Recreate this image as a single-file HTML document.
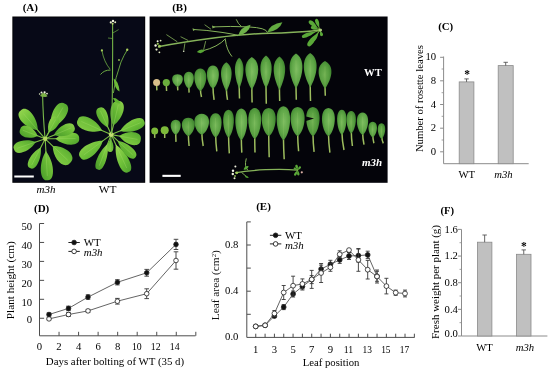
<!DOCTYPE html>
<html><head><meta charset="utf-8"><title>Figure</title>
<style>
html,body{margin:0;padding:0;background:#fff;}
body{width:550px;height:373px;overflow:hidden;}
svg{display:block;font-family:"Liberation Serif","Times New Roman",serif;}
</style></head><body>
<svg width="550" height="373" viewBox="0 0 550 373">
<rect width="550" height="373" fill="#fff"/>
<text x="22.7" y="11.2" font-size="11" text-anchor="start" font-weight="bold">(A)</text>
<text x="172.2" y="11.2" font-size="11" text-anchor="start" font-weight="bold">(B)</text>
<text x="438.2" y="29.7" font-size="10.8" text-anchor="start" font-weight="bold">(C)</text>
<text x="34" y="212.3" font-size="11" text-anchor="start" font-weight="bold">(D)</text>
<text x="256.2" y="209.8" font-size="11" text-anchor="start" font-weight="bold">(E)</text>
<text x="440.5" y="214.4" font-size="10.7" text-anchor="start" font-weight="bold">(F)</text>
<defs>
<linearGradient id="lgA" x1="0" y1="0" x2="1" y2="1"><stop offset="0" stop-color="#8fd544"/><stop offset="0.5" stop-color="#62b52c"/><stop offset="1" stop-color="#3f8f1f"/></linearGradient>
<linearGradient id="lgB" x1="0" y1="0" x2="1" y2="0"><stop offset="0" stop-color="#4a9a2c"/><stop offset="0.45" stop-color="#6ab83c"/><stop offset="0.55" stop-color="#58a832"/><stop offset="1" stop-color="#3d8a26"/></linearGradient>
<linearGradient id="ga0" x1="0" y1="0" x2="1" y2="1"><stop offset="0" stop-color="#9ad852"/><stop offset="0.55" stop-color="#6cbf38"/><stop offset="1" stop-color="#4c9e2c"/></linearGradient>
<linearGradient id="ga1" x1="1" y1="0" x2="0" y2="1"><stop offset="0" stop-color="#90d24c"/><stop offset="0.5" stop-color="#66b834"/><stop offset="1" stop-color="#48992a"/></linearGradient>
<linearGradient id="ga2" x1="0" y1="1" x2="1" y2="0"><stop offset="0" stop-color="#88ce48"/><stop offset="0.5" stop-color="#70c03a"/><stop offset="1" stop-color="#50a22e"/></linearGradient>
</defs>
<rect x="12.35" y="16.5" width="132.85" height="166.3" fill="#020205"/><rect x="13.3" y="17.5" width="131" height="164.4" fill="#070917"/>
<line x1="45.2" y1="138.8" x2="34.4" y2="126.3" stroke="#7dc044" stroke-width="1.1"/>
<path d="M37.9 130.3C37.8 117.2 26.5 104.1 20.7 110.5C13.5 115.3 24.9 128.4 37.9 130.3Z" fill="url(#ga0)"/>
<line x1="37.9" y1="130.3" x2="23.3" y2="113.5" stroke="#a5dc6a" stroke-width="0.5" opacity="0.7"/>
<line x1="45.2" y1="138.8" x2="34.2" y2="134.6" stroke="#7dc044" stroke-width="1.1"/>
<path d="M37.7 135.9C33.7 126.3 22.2 121.9 20.2 129.2C16.8 136.0 28.4 140.4 37.7 135.9Z" fill="url(#ga1)"/>
<line x1="37.7" y1="135.9" x2="22.8" y2="130.2" stroke="#a5dc6a" stroke-width="0.5" opacity="0.7"/>
<line x1="45.2" y1="138.8" x2="31.5" y2="143.4" stroke="#7dc044" stroke-width="1.1"/>
<path d="M35.8 142.0C25.1 137.6 10.7 142.5 14.0 149.3C15.5 156.7 29.9 151.9 35.8 142.0Z" fill="url(#ga2)"/>
<line x1="35.8" y1="142.0" x2="17.3" y2="148.2" stroke="#a5dc6a" stroke-width="0.5" opacity="0.7"/>
<line x1="45.2" y1="138.8" x2="38.6" y2="151.7" stroke="#7dc044" stroke-width="1.1"/>
<path d="M40.7 147.6C31.0 152.5 24.0 166.0 30.1 168.1C35.4 171.9 42.3 158.3 40.7 147.6Z" fill="url(#ga0)"/>
<line x1="40.7" y1="147.6" x2="31.7" y2="165.0" stroke="#a5dc6a" stroke-width="0.5" opacity="0.7"/>
<line x1="45.2" y1="138.8" x2="46.2" y2="157.0" stroke="#7dc044" stroke-width="1.1"/>
<path d="M45.9 151.2C38.4 162.7 39.4 181.8 47.5 180.2C55.7 180.9 54.6 161.8 45.9 151.2Z" fill="url(#ga1)"/>
<line x1="45.9" y1="151.2" x2="47.3" y2="175.9" stroke="#a5dc6a" stroke-width="0.5" opacity="0.7"/>
<line x1="45.2" y1="138.8" x2="56.2" y2="149.3" stroke="#7dc044" stroke-width="1.1"/>
<path d="M52.7 146.0C52.8 159.3 64.4 170.3 70.3 162.7C77.6 156.4 66.0 145.4 52.7 146.0Z" fill="url(#ga2)"/>
<line x1="52.7" y1="146.0" x2="67.7" y2="160.2" stroke="#a5dc6a" stroke-width="0.5" opacity="0.7"/>
<line x1="45.2" y1="138.8" x2="60.2" y2="138.7" stroke="#7dc044" stroke-width="1.1"/>
<path d="M55.4 138.7C64.5 146.8 80.2 146.8 79.2 138.6C80.1 130.4 64.4 130.5 55.4 138.7Z" fill="url(#ga0)"/>
<line x1="55.4" y1="138.7" x2="75.6" y2="138.6" stroke="#a5dc6a" stroke-width="0.5" opacity="0.7"/>
<line x1="45.2" y1="138.8" x2="58.0" y2="133.4" stroke="#7dc044" stroke-width="1.1"/>
<path d="M53.9 135.1C64.6 138.8 78.0 133.2 74.3 126.6C72.2 119.3 58.8 125.0 53.9 135.1Z" fill="url(#ga1)"/>
<line x1="53.9" y1="135.1" x2="71.2" y2="127.9" stroke="#a5dc6a" stroke-width="0.5" opacity="0.7"/>
<line x1="45.2" y1="138.8" x2="53.9" y2="123.4" stroke="#7dc044" stroke-width="1.1"/>
<path d="M51.1 128.3C64.3 123.4 73.4 107.3 65.0 103.8C57.7 98.4 48.5 114.5 51.1 128.3Z" fill="url(#ga2)"/>
<line x1="51.1" y1="128.3" x2="62.9" y2="107.5" stroke="#a5dc6a" stroke-width="0.5" opacity="0.7"/>
<line x1="45.2" y1="138.8" x2="50.3" y2="129.3" stroke="#7dc044" stroke-width="1.1"/>
<path d="M48.7 132.3C57.4 129.6 62.9 119.6 56.9 117.2C51.6 113.5 46.2 123.5 48.7 132.3Z" fill="url(#ga0)"/>
<line x1="48.7" y1="132.3" x2="55.7" y2="119.5" stroke="#a5dc6a" stroke-width="0.5" opacity="0.7"/>
<path d="M45 138 Q43 115 42.6 95" fill="none" stroke="#79b94a" stroke-width="1.1"/>
<circle cx="45.2" cy="138.8" r="2.2" fill="#b5d860"/>
<path d="M40 96l2.3-3 3 .2 2.2 3-2 .8-3.5-.2z" fill="#7db348"/><circle cx="41.5" cy="92.6" r="1" fill="#f1f3dc"/><circle cx="44.6" cy="92.3" r="1.1" fill="#f4f5e4"/><circle cx="47" cy="93.6" r=".9" fill="#e8edcf"/><circle cx="39.6" cy="94" r=".8" fill="#dfe8bf"/>
<line x1="111.2" y1="134.6" x2="106.2" y2="123.5" stroke="#7dc044" stroke-width="1.1"/>
<path d="M107.9 127.4C110.8 117.1 105.0 104.2 99.1 107.8C92.5 109.8 98.3 122.8 107.9 127.4Z" fill="url(#ga1)"/>
<line x1="107.9" y1="127.4" x2="100.4" y2="110.7" stroke="#a5dc6a" stroke-width="0.5" opacity="0.7"/>
<line x1="111.2" y1="134.6" x2="97.3" y2="128.5" stroke="#7dc044" stroke-width="1.1"/>
<path d="M102.2 130.6C96.3 118.7 80.2 111.6 77.7 119.9C73.3 127.3 89.4 134.4 102.2 130.6Z" fill="url(#ga2)"/>
<line x1="102.2" y1="130.6" x2="81.4" y2="121.5" stroke="#a5dc6a" stroke-width="0.5" opacity="0.7"/>
<line x1="111.2" y1="134.6" x2="98.4" y2="144.1" stroke="#7dc044" stroke-width="1.1"/>
<path d="M102.9 140.8C89.5 140.5 74.6 151.5 80.4 157.4C84.4 164.6 99.2 153.6 102.9 140.8Z" fill="url(#ga0)"/>
<line x1="102.9" y1="140.8" x2="83.8" y2="154.9" stroke="#a5dc6a" stroke-width="0.5" opacity="0.7"/>
<line x1="111.2" y1="134.6" x2="105.6" y2="149.1" stroke="#7dc044" stroke-width="1.1"/>
<path d="M107.6 144.0C98.3 151.6 91.8 168.4 97.8 169.5C103.0 172.7 109.5 155.9 107.6 144.0Z" fill="url(#ga1)"/>
<line x1="107.6" y1="144.0" x2="99.3" y2="165.7" stroke="#a5dc6a" stroke-width="0.5" opacity="0.7"/>
<line x1="111.2" y1="134.6" x2="110.7" y2="141.8" stroke="#7dc044" stroke-width="1.1"/>
<path d="M110.8 139.3C106.2 143.8 105.6 152.2 109.9 152.0C114.2 152.8 114.8 144.4 110.8 139.3Z" fill="url(#ga2)"/>
<line x1="110.8" y1="139.3" x2="110.0" y2="150.1" stroke="#a5dc6a" stroke-width="0.5" opacity="0.7"/>
<line x1="111.2" y1="134.6" x2="118.4" y2="150.2" stroke="#7dc044" stroke-width="1.1"/>
<path d="M115.9 144.7C113.9 158.3 122.3 176.4 128.6 172.1C135.9 170.0 127.5 152.0 115.9 144.7Z" fill="url(#ga0)"/>
<line x1="115.9" y1="144.7" x2="126.7" y2="168.0" stroke="#a5dc6a" stroke-width="0.5" opacity="0.7"/>
<line x1="111.2" y1="134.6" x2="121.2" y2="144.1" stroke="#7dc044" stroke-width="1.1"/>
<path d="M117.7 140.8C120.0 151.7 131.6 162.7 135.3 157.4C140.4 153.4 128.8 142.4 117.7 140.8Z" fill="url(#ga1)"/>
<line x1="117.7" y1="140.8" x2="132.7" y2="154.9" stroke="#a5dc6a" stroke-width="0.5" opacity="0.7"/>
<line x1="111.2" y1="134.6" x2="123.5" y2="136.8" stroke="#7dc044" stroke-width="1.1"/>
<path d="M119.2 136.1C125.8 146.0 140.0 148.6 140.7 140.0C143.1 131.7 128.9 129.1 119.2 136.1Z" fill="url(#ga2)"/>
<line x1="119.2" y1="136.1" x2="137.5" y2="139.4" stroke="#a5dc6a" stroke-width="0.5" opacity="0.7"/>
<line x1="111.2" y1="134.6" x2="124.9" y2="129.0" stroke="#7dc044" stroke-width="1.1"/>
<path d="M120.1 131.0C132.1 134.2 148.0 127.8 144.2 121.2C142.3 113.8 126.4 120.3 120.1 131.0Z" fill="url(#ga0)"/>
<line x1="120.1" y1="131.0" x2="140.6" y2="122.7" stroke="#a5dc6a" stroke-width="0.5" opacity="0.7"/>
<line x1="111.2" y1="134.6" x2="114.5" y2="120.7" stroke="#7dc044" stroke-width="1.1"/>
<path d="M113.4 125.6C123.9 118.3 127.8 102.1 119.2 101.1C111.1 98.1 107.3 114.3 113.4 125.6Z" fill="url(#ga1)"/>
<line x1="113.4" y1="125.6" x2="118.3" y2="104.8" stroke="#a5dc6a" stroke-width="0.5" opacity="0.7"/>
<circle cx="111.2" cy="134.6" r="2.4" fill="#c5dc74"/>
<path d="M111.6 134 Q112.9 80 112.6 23" fill="none" stroke="#76b548" stroke-width="1.1"/>
<path d="M110 69 Q104 62 101.9 50.6" fill="none" stroke="#6faf44" stroke-width="0.8"/>
<path d="M110.5 70 Q104 70 100.5 74.5" fill="none" stroke="#6faf44" stroke-width="1"/>
<path d="M113.4 93 Q115 78 121 62 Q124 55 127.2 50" fill="none" stroke="#6faf44" stroke-width="0.9"/>
<path d="M113.6 78.5 Q118.6 81 119.6 91.5 Q114.4 89.5 113.6 78.5Z" fill="#6dbb38"/><path d="M113 98 Q117.5 97.5 120.5 103.5 Q115 104 113 98Z" fill="#62b332"/>
<path d="M112.5 38.5 L108 38" stroke="#6faf44" stroke-width="0.7"/><path d="M112.8 33 L118.6 29.6" stroke="#6faf44" stroke-width="0.7"/>
<circle cx="101.9" cy="50.4" r="1.1" fill="#a9cf5c"/><circle cx="127.2" cy="49.8" r="1.2" fill="#a9cf5c"/><circle cx="119" cy="60" r=".9" fill="#9cc852"/>
<circle cx="110.8" cy="22.4" r="1.1" fill="#e9edcf"/><circle cx="113" cy="21" r="1.2" fill="#f3f4e2"/><circle cx="115.2" cy="22.2" r="1" fill="#e3e9c2"/><circle cx="112.6" cy="23.8" r="1" fill="#b8d070"/>
<rect x="14.3" y="175.5" width="19.5" height="2" fill="#fff"/>
<text x="46" y="193.3" font-size="11" text-anchor="middle" font-style="italic">m3h</text>
<text x="107.5" y="193.3" font-size="11.4" text-anchor="middle">WT</text>
<rect x="149.6" y="16.5" width="238" height="166.3" fill="#04040a"/>
<defs>
<radialGradient id="rg0" cx="0.5" cy="0.5" r="0.6"><stop offset="0" stop-color="#76b85a"/><stop offset="0.6" stop-color="#5ba243"/><stop offset="1" stop-color="#3f8630"/></radialGradient>
<radialGradient id="rg1" cx="0.45" cy="0.5" r="0.6"><stop offset="0" stop-color="#6fb052"/><stop offset="0.6" stop-color="#559c3e"/><stop offset="1" stop-color="#3a802c"/></radialGradient>
<radialGradient id="rg2" cx="0.55" cy="0.45" r="0.6"><stop offset="0" stop-color="#7cbc60"/><stop offset="0.6" stop-color="#60a748"/><stop offset="1" stop-color="#428a32"/></radialGradient>
</defs>
<path d="M156.6 82.9 Q156.7 88.2 156.9 90.4" fill="none" stroke="#9dbd5e" stroke-width="1.5"/>
<ellipse cx="156.6" cy="82.4" rx="3.5" ry="3.5" fill="#d9c08a"/>
<path d="M166.3 83.2 Q166.4 88.6 166.6 91" fill="none" stroke="#9dbd5e" stroke-width="1.5"/>
<ellipse cx="166.3" cy="82.6" rx="3.6" ry="3.6" fill="#6aae3c"/>
<path d="M177.5 82.9 Q177.6 88.2 177.8 90.4" fill="none" stroke="#9dbd5e" stroke-width="1.5"/>
<path d="M177.5 86.9C172.0 84.5 168.9 74.6 177.5 74.3C186.1 74.6 183.0 84.5 177.5 86.9Z" fill="url(#rg2)"/>
<line x1="177.5" y1="85.9" x2="177.5" y2="76.6" stroke="#9ccf6a" stroke-width="0.5" opacity="0.45"/>
<path d="M188.8 84.7 Q188.9 90.2 189.1 92.6" fill="none" stroke="#9dbd5e" stroke-width="1.5"/>
<path d="M188.8 88.7C183.7 85.8 180.7 72.2 188.8 71.7C196.9 72.2 193.9 85.8 188.8 88.7Z" fill="url(#rg0)"/>
<line x1="188.8" y1="87.7" x2="188.8" y2="74.9" stroke="#9ccf6a" stroke-width="0.5" opacity="0.45"/>
<path d="M200.3 86.9 Q200.5 93.5 201.5 97" fill="none" stroke="#9dbd5e" stroke-width="1.5"/>
<path d="M200.3 90.9C194.2 87.3 190.6 69.0 200.3 68.4C210.0 69.0 206.4 87.3 200.3 90.9Z" fill="url(#rg1)"/>
<line x1="200.3" y1="89.9" x2="200.3" y2="72.7" stroke="#9ccf6a" stroke-width="0.5" opacity="0.45"/>
<path d="M212.9 84.7 Q213.1 93.8 214.1 99.8" fill="none" stroke="#9dbd5e" stroke-width="1.5"/>
<path d="M212.9 88.7C206.8 85.0 203.2 66.2 212.9 65.5C222.6 66.2 219.0 85.0 212.9 88.7Z" fill="url(#rg2)"/>
<line x1="212.9" y1="87.7" x2="212.9" y2="69.9" stroke="#9ccf6a" stroke-width="0.5" opacity="0.45"/>
<path d="M226.3 87.4 Q226.5 95.1 227.5 99.8" fill="none" stroke="#9dbd5e" stroke-width="1.5"/>
<path d="M226.3 91.4C222.5 84.8 216.5 68.5 226.3 62.3C236.1 68.5 230.1 84.8 226.3 91.4Z" fill="url(#rg0)"/>
<line x1="226.3" y1="90.4" x2="226.3" y2="67.9" stroke="#9ccf6a" stroke-width="0.5" opacity="0.45"/>
<path d="M239.2 84.7 Q239.3 93.1 239.5 98.5" fill="none" stroke="#9dbd5e" stroke-width="1.5"/>
<path d="M239.2 88.7C236.1 81.7 231.3 64.3 239.2 57.7C247.1 64.3 242.3 81.7 239.2 88.7Z" fill="url(#rg1)"/>
<line x1="239.2" y1="87.7" x2="239.2" y2="63.7" stroke="#9ccf6a" stroke-width="0.5" opacity="0.45"/>
<path d="M251.8 86.0 Q251.9 95.8 252.1 102.5" fill="none" stroke="#9dbd5e" stroke-width="1.5"/>
<path d="M251.8 90.0C247.2 82.6 240.0 64.0 251.8 56.9C263.6 64.0 256.4 82.6 251.8 90.0Z" fill="url(#rg2)"/>
<line x1="251.8" y1="89.0" x2="251.8" y2="63.3" stroke="#9ccf6a" stroke-width="0.5" opacity="0.45"/>
<path d="M266 84.7 Q266.1 95.8 266.3 103.8" fill="none" stroke="#9dbd5e" stroke-width="1.5"/>
<path d="M266 88.7C261.9 81.3 255.6 62.7 266 55.6C276.4 62.7 270.1 81.3 266 88.7Z" fill="url(#rg0)"/>
<line x1="266" y1="87.7" x2="266" y2="62.0" stroke="#9ccf6a" stroke-width="0.5" opacity="0.45"/>
<path d="M279.4 86.0 Q279.5 95.0 279.7 101" fill="none" stroke="#9dbd5e" stroke-width="1.5"/>
<path d="M279.4 90.0C275.3 82.5 268.8 63.6 279.4 56.5C290.0 63.6 283.5 82.5 279.4 90.0Z" fill="url(#rg1)"/>
<line x1="279.4" y1="89.0" x2="279.4" y2="63.0" stroke="#9ccf6a" stroke-width="0.5" opacity="0.45"/>
<path d="M296 84.7 Q296.1 93.8 296.3 99.8" fill="none" stroke="#9dbd5e" stroke-width="1.5"/>
<path d="M296 88.7C291.4 80.8 284.2 60.9 296 53.4C307.8 60.9 300.6 80.8 296 88.7Z" fill="url(#rg2)"/>
<line x1="296" y1="87.7" x2="296" y2="60.3" stroke="#9ccf6a" stroke-width="0.5" opacity="0.45"/>
<path d="M310.2 83.4 Q310.3 93.7 310.5 101" fill="none" stroke="#9dbd5e" stroke-width="1.5"/>
<path d="M310.2 87.4C305.6 79.7 298.4 60.3 310.2 52.9C322.0 60.3 314.8 79.7 310.2 87.4Z" fill="url(#rg0)"/>
<line x1="310.2" y1="86.4" x2="310.2" y2="59.6" stroke="#9ccf6a" stroke-width="0.5" opacity="0.45"/>
<path d="M325 84.7 Q325.1 91.8 325.3 95.8" fill="none" stroke="#9dbd5e" stroke-width="1.5"/>
<path d="M325 88.7C320.4 82.3 313.2 66.8 325 60.9C336.8 66.8 329.6 82.3 325 88.7Z" fill="url(#rg1)"/>
<line x1="325" y1="87.7" x2="325" y2="66.3" stroke="#9ccf6a" stroke-width="0.5" opacity="0.45"/>
<path d="M154.7 131.4 Q154.7 136.2 154.7 137.9" fill="none" stroke="#9dbd5e" stroke-width="1.5"/>
<ellipse cx="154.7" cy="130.9" rx="3.5" ry="3.5" fill="#7dba3a"/>
<path d="M164.7 131.3 Q164.7 136.2 164.7 138" fill="none" stroke="#9dbd5e" stroke-width="1.5"/>
<ellipse cx="164.7" cy="130.3" rx="4.0" ry="4.0" fill="#7dba3a"/>
<path d="M175.7 130.9 Q175.8 137.9 176.0 141.9" fill="none" stroke="#9dbd5e" stroke-width="1.5"/>
<path d="M175.7 134.9C170.6 132.2 167.6 120.1 175.7 119.7C183.8 120.1 180.8 132.2 175.7 134.9Z" fill="url(#rg0)"/>
<line x1="175.7" y1="133.9" x2="175.7" y2="122.5" stroke="#9ccf6a" stroke-width="0.5" opacity="0.45"/>
<path d="M188.3 132.2 Q188.5 140.6 189.1 146" fill="none" stroke="#9dbd5e" stroke-width="1.5"/>
<path d="M188.3 136.2C181.7 133.1 177.9 118.3 188.3 117.8C198.7 118.3 194.9 133.1 188.3 136.2Z" fill="url(#rg1)"/>
<line x1="188.3" y1="135.2" x2="188.3" y2="121.3" stroke="#9ccf6a" stroke-width="0.5" opacity="0.45"/>
<path d="M201.7 130.9 Q202.0 139.9 203.2 146" fill="none" stroke="#9dbd5e" stroke-width="1.5"/>
<path d="M201.7 134.9C194.2 131.5 189.9 114.4 201.7 113.8C213.5 114.4 209.2 131.5 201.7 134.9Z" fill="url(#rg2)"/>
<line x1="201.7" y1="133.9" x2="201.7" y2="117.8" stroke="#9ccf6a" stroke-width="0.5" opacity="0.45"/>
<path d="M215.6 133.6 Q215.8 143.9 216.8 151.3" fill="none" stroke="#9dbd5e" stroke-width="1.5"/>
<path d="M215.6 137.6C209.5 133.8 205.9 113.9 215.6 113.2C225.3 113.9 221.7 133.8 215.6 137.6Z" fill="url(#rg0)"/>
<line x1="215.6" y1="136.6" x2="215.6" y2="117.9" stroke="#9ccf6a" stroke-width="0.5" opacity="0.45"/>
<path d="M228.5 133.6 Q228.7 145.0 229.3 153.4" fill="none" stroke="#9dbd5e" stroke-width="1.5"/>
<path d="M228.5 137.6C223.0 133.4 219.9 110.5 228.5 109.7C237.1 110.5 234.0 133.4 228.5 137.6Z" fill="url(#rg1)"/>
<line x1="228.5" y1="136.6" x2="228.5" y2="115.1" stroke="#9ccf6a" stroke-width="0.5" opacity="0.45"/>
<path d="M241.3 136.2 Q241.4 145.9 241.8 152.6" fill="none" stroke="#9dbd5e" stroke-width="1.5"/>
<path d="M241.3 140.2C235.2 135.5 231.6 109.3 241.3 108.4C251.0 109.3 247.4 135.5 241.3 140.2Z" fill="url(#rg2)"/>
<line x1="241.3" y1="139.2" x2="241.3" y2="114.6" stroke="#9ccf6a" stroke-width="0.5" opacity="0.45"/>
<path d="M254.7 134.9 Q254.8 145.2 255.0 152.6" fill="none" stroke="#9dbd5e" stroke-width="1.5"/>
<path d="M254.7 138.9C248.1 134.3 244.3 108.8 254.7 107.9C265.1 108.8 261.3 134.3 254.7 138.9Z" fill="url(#rg0)"/>
<line x1="254.7" y1="137.9" x2="254.7" y2="113.9" stroke="#9ccf6a" stroke-width="0.5" opacity="0.45"/>
<path d="M268.7 132.2 Q268.8 146.2 269.2 157.2" fill="none" stroke="#9dbd5e" stroke-width="1.5"/>
<path d="M268.7 136.2C261.5 131.9 257.4 108.7 268.7 107.9C280.0 108.7 275.9 131.9 268.7 136.2Z" fill="url(#rg1)"/>
<line x1="268.7" y1="135.2" x2="268.7" y2="113.4" stroke="#9ccf6a" stroke-width="0.5" opacity="0.45"/>
<path d="M283.4 136.2 Q283.6 149.2 284.2 159.3" fill="none" stroke="#9dbd5e" stroke-width="1.5"/>
<path d="M283.4 140.2C276.5 135.3 272.6 107.3 283.4 106.3C294.2 107.3 290.3 135.3 283.4 140.2Z" fill="url(#rg2)"/>
<line x1="283.4" y1="139.2" x2="283.4" y2="112.9" stroke="#9ccf6a" stroke-width="0.5" opacity="0.45"/>
<path d="M297.6 132.2 Q297.8 143.2 298.6 151.3" fill="none" stroke="#9dbd5e" stroke-width="1.5"/>
<path d="M297.6 136.2C290.4 131.8 286.3 107.8 297.6 107.0C308.9 107.8 304.8 131.8 297.6 136.2Z" fill="url(#rg0)"/>
<line x1="297.6" y1="135.2" x2="297.6" y2="112.6" stroke="#9ccf6a" stroke-width="0.5" opacity="0.45"/>
<path d="M312.9 132.2 Q313.1 143.5 314.1 151.8" fill="none" stroke="#9dbd5e" stroke-width="1.5"/>
<path d="M312.9 136.2C306.0 131.8 302.1 107.8 312.9 107.0C323.7 107.8 319.8 131.8 312.9 136.2Z" fill="url(#rg1)"/>
<line x1="312.9" y1="135.2" x2="312.9" y2="112.6" stroke="#9ccf6a" stroke-width="0.5" opacity="0.45"/>
<path d="M328.4 132.2 Q328.7 143.9 329.9 152.6" fill="none" stroke="#9dbd5e" stroke-width="1.5"/>
<path d="M328.4 136.2C321.8 131.9 318.0 108.7 328.4 107.9C338.8 108.7 335.0 131.9 328.4 136.2Z" fill="url(#rg2)"/>
<line x1="328.4" y1="135.2" x2="328.4" y2="113.4" stroke="#9ccf6a" stroke-width="0.5" opacity="0.45"/>
<path d="M341.8 130.9 Q342.2 141.9 344.0 150" fill="none" stroke="#9dbd5e" stroke-width="1.5"/>
<path d="M341.8 134.9C337.0 131.0 334.2 110.4 341.8 109.7C349.4 110.4 346.6 131.0 341.8 134.9Z" fill="url(#rg0)"/>
<line x1="341.8" y1="133.9" x2="341.8" y2="114.5" stroke="#9ccf6a" stroke-width="0.5" opacity="0.45"/>
<path d="M351.2 129.5 Q351.4 139.2 352.4 146" fill="none" stroke="#9dbd5e" stroke-width="1.5"/>
<path d="M351.2 133.5C346.4 129.9 343.6 111.6 351.2 111.0C358.8 111.6 356.0 129.9 351.2 133.5Z" fill="url(#rg1)"/>
<line x1="351.2" y1="132.5" x2="351.2" y2="115.3" stroke="#9ccf6a" stroke-width="0.5" opacity="0.45"/>
<path d="M362.5 130.9 Q362.8 139.2 364.0 144.6" fill="none" stroke="#9dbd5e" stroke-width="1.5"/>
<path d="M362.5 134.9C356.7 131.3 353.4 113.0 362.5 112.4C371.6 113.0 368.3 131.3 362.5 134.9Z" fill="url(#rg2)"/>
<line x1="362.5" y1="133.9" x2="362.5" y2="116.7" stroke="#9ccf6a" stroke-width="0.5" opacity="0.45"/>
<path d="M372.7 133.6 Q372.9 139.9 373.9 143.3" fill="none" stroke="#9dbd5e" stroke-width="1.5"/>
<path d="M372.7 137.6C368.3 134.8 365.8 122.2 372.7 121.8C379.6 122.2 377.1 134.8 372.7 137.6Z" fill="url(#rg0)"/>
<line x1="372.7" y1="136.6" x2="372.7" y2="124.8" stroke="#9ccf6a" stroke-width="0.5" opacity="0.45"/>
<path d="M381.5 134.9 Q381.9 140.6 383.3 143.3" fill="none" stroke="#9dbd5e" stroke-width="1.5"/>
<path d="M381.5 138.9C377.7 136.1 375.5 123.6 381.5 123.2C387.5 123.6 385.3 136.1 381.5 138.9Z" fill="url(#rg1)"/>
<line x1="381.5" y1="137.9" x2="381.5" y2="126.1" stroke="#9ccf6a" stroke-width="0.5" opacity="0.45"/>
<path d="M306 121 L314 118.5 L306 116.5Z" fill="#05060a"/>
<path d="M158 46.8 Q183 42 215.5 37.8 T270 33.3 T320 30.3" fill="none" stroke="#86b35a" stroke-width="1.5"/>
<path d="M193.7 29.5 Q206 30 222 32.4 T238 35.9" fill="none" stroke="#86b35a" stroke-width="1"/>
<path d="M213.3 26.9 Q230 26 248.3 26.9 T267.5 32.6" fill="none" stroke="#86b35a" stroke-width="1"/>
<path d="M204.6 24.7 L211.1 29.3" stroke="#86b35a" stroke-width="0.8"/><path d="M236.2 19.3 Q238 24 241.5 26.5" fill="none" stroke="#86b35a" stroke-width="0.9"/>
<path d="M225.6 38.6 Q218 47 202.4 50.9" fill="none" stroke="#86b35a" stroke-width="1"/>
<path d="M225.3 39.2 Q226.5 50 232 56.6" fill="none" stroke="#86b35a" stroke-width="1"/>
<path d="M205.7 41.1 L203.6 49.8" stroke="#86b35a" stroke-width="0.8"/><path d="M184.9 43.3 L183.8 50.5" stroke="#86b35a" stroke-width="0.8"/><path d="M166.4 34.6 L177.3 41.8" stroke="#86b35a" stroke-width="0.8"/><path d="M180.6 36.7 L188.2 40.5" stroke="#86b35a" stroke-width="0.8"/>
<path d="M238.2 36 Q240 27 250.6 24.8 Q249 33 238.2 36Z" fill="#6fb24a"/>
<path d="M267.3 32.6 Q270 24 282.4 22.3 Q279.5 30.5 267.3 32.6Z" fill="#62aa40"/>
<path d="M196.8 52 Q200 48 204.8 50.2 Q202 55 196.8 52Z" fill="#58a635"/>
<path d="M192.5 28.2 l3.2 1.3 -2.6 1.6z" fill="#86b35a"/><path d="M212 25.6 l3.5 1.3 -3 1.6z" fill="#86b35a"/><circle cx="183.7" cy="51.3" r="0.8" fill="#dfe8c8"/>
<circle cx="157.6" cy="41.2" r="1" fill="#f0f2df"/><circle cx="155.6" cy="45.5" r="1.2" fill="#f4f5e4"/><circle cx="156.5" cy="49.6" r="1.1" fill="#e7ecca"/><circle cx="160.6" cy="40.6" r=".9" fill="#dde6b8"/><circle cx="159.4" cy="52.3" r=".9" fill="#e4eac4"/><circle cx="159.5" cy="46.2" r="1.5" fill="#9fc95a"/><circle cx="157.8" cy="43.8" r="1.1" fill="#8fbf50"/>
<line x1="320.0" y1="30.0" x2="315.6" y2="26.4" stroke="#7dc044" stroke-width="0.8"/>
<path d="M317.2 27.8C315.8 23.1 310.4 18.7 309.0 21.0C307.0 22.8 312.4 27.2 317.2 27.8Z" fill="#5aa838"/>
<line x1="320.0" y1="30.0" x2="318.4" y2="25.6" stroke="#7dc044" stroke-width="0.8"/>
<path d="M319.0 27.2C320.1 23.3 318.1 17.9 316.0 19.0C313.7 19.5 315.7 24.9 319.0 27.2Z" fill="#5aa838"/>
<line x1="320.0" y1="30.0" x2="316.4" y2="28.8" stroke="#7dc044" stroke-width="0.8"/>
<path d="M317.8 29.2C315.9 26.2 311.5 24.7 311.0 27.0C310.0 29.1 314.4 30.6 317.8 29.2Z" fill="#5aa838"/>
<line x1="320.0" y1="30.0" x2="315.2" y2="36.4" stroke="#7dc044" stroke-width="0.8"/>
<path d="M317.0 34.0C310.9 36.6 305.0 44.5 308.0 46.0C310.3 48.5 316.2 40.6 317.0 34.0Z" fill="#5aa838"/>
<line x1="320.0" y1="30.0" x2="312.8" y2="32.8" stroke="#7dc044" stroke-width="0.8"/>
<path d="M315.5 31.8C309.4 31.3 300.5 34.7 302.0 37.0C302.4 39.7 311.3 36.2 315.5 31.8Z" fill="#5aa838"/>
<line x1="320.0" y1="30.0" x2="320.8" y2="32.4" stroke="#7dc044" stroke-width="0.8"/>
<path d="M320.5 31.5C319.2 33.8 320.2 36.8 322.0 36.0C324.0 35.5 323.0 32.6 320.5 31.5Z" fill="#5aa838"/>
<line x1="320.0" y1="30.0" x2="317.2" y2="34.4" stroke="#7dc044" stroke-width="0.8"/>
<path d="M318.2 32.8C314.3 34.6 310.8 40.1 313.0 41.0C314.8 42.6 318.2 37.1 318.2 32.8Z" fill="#5aa838"/>
<circle cx="320.5" cy="30" r="1.6" fill="#a9c779"/>
<path d="M235 172.9 Q248 170.6 265.5 169.7 T297.5 170.1" fill="none" stroke="#86b35a" stroke-width="1.3"/>
<path d="M248 170.4 Q244 167 246.3 158.4" fill="none" stroke="#86b35a" stroke-width="1"/><path d="M241.5 172.4 L247 177" stroke="#86b35a" stroke-width="0.9"/>
<path d="M243.6 169.6 Q244.5 165.5 248.6 166 Q248 170 243.6 169.6Z" fill="#5aa838"/><path d="M244.6 175.6 Q247.6 175 248.8 178 Q245.5 178.6 244.6 175.6Z" fill="#4f9c30"/>
<circle cx="235.4" cy="166.4" r="1" fill="#f2f3e2"/><circle cx="233" cy="170.8" r="1.2" fill="#f6f6ea"/><circle cx="232.8" cy="174" r="1.2" fill="#f0f2df"/><circle cx="234.5" cy="178.3" r="1" fill="#e9eccf"/><circle cx="236.8" cy="172.8" r="1.4" fill="#9fc95a"/><circle cx="235" cy="176" r=".9" fill="#8fbf50"/>
<line x1="297.6" y1="170.2" x2="297.2" y2="168.5" stroke="#7dc044" stroke-width="0.7"/>
<path d="M297.4 169.4C298.6 167.2 297.8 164.2 296.2 164.8C294.5 165.1 295.3 168.1 297.4 169.4Z" fill="#5aa838"/>
<line x1="297.6" y1="170.2" x2="298.6" y2="169.0" stroke="#7dc044" stroke-width="0.7"/>
<path d="M298.1 169.6C300.3 169.5 301.9 167.4 300.6 166.5C299.5 165.4 297.8 167.4 298.1 169.6Z" fill="#5aa838"/>
<line x1="297.6" y1="170.2" x2="296.6" y2="171.9" stroke="#7dc044" stroke-width="0.7"/>
<path d="M297.2 171.0C294.8 172.0 293.1 175.0 294.6 175.6C295.9 176.6 297.6 173.5 297.2 171.0Z" fill="#5aa838"/>
<line x1="297.6" y1="170.2" x2="297.9" y2="171.9" stroke="#7dc044" stroke-width="0.7"/>
<path d="M297.8 171.0C296.5 173.0 297.1 175.9 298.6 175.4C300.2 175.3 299.6 172.4 297.8 171.0Z" fill="#5aa838"/>
<line x1="297.6" y1="170.2" x2="296.4" y2="169.5" stroke="#7dc044" stroke-width="0.7"/>
<path d="M297.0 169.9C296.5 168.0 294.3 166.8 293.8 168.0C293.0 169.1 295.1 170.3 297.0 169.9Z" fill="#5aa838"/>
<circle cx="301.8" cy="172.3" r="1.1" fill="#dcb0a6"/>
<rect x="162.4" y="174.8" width="18.3" height="2.1" fill="#fff"/>
<text x="364" y="76" font-size="10.7" text-anchor="start" font-weight="bold" fill="#fff">WT</text>
<text x="362" y="165.5" font-size="11" text-anchor="start" font-weight="bold" font-style="italic" fill="#fff">m3h</text>
<line x1="443.6" y1="56.5" x2="443.6" y2="163.7" stroke="#8c8c8c" stroke-width="1"/>
<line x1="443.6" y1="163.7" x2="528.7" y2="163.7" stroke="#8c8c8c" stroke-width="1"/>
<line x1="440.1" y1="57.3" x2="443.6" y2="57.3" stroke="#8c8c8c" stroke-width="1"/>
<text x="436.20000000000005" y="60.4" font-size="10.7" text-anchor="end">10</text>
<line x1="440.1" y1="80.8" x2="443.6" y2="80.8" stroke="#8c8c8c" stroke-width="1"/>
<text x="436.20000000000005" y="83.89999999999999" font-size="10.7" text-anchor="end">8</text>
<line x1="440.1" y1="104.5" x2="443.6" y2="104.5" stroke="#8c8c8c" stroke-width="1"/>
<text x="436.20000000000005" y="107.6" font-size="10.7" text-anchor="end">4</text>
<line x1="440.1" y1="128.2" x2="443.6" y2="128.2" stroke="#8c8c8c" stroke-width="1"/>
<text x="436.20000000000005" y="131.29999999999998" font-size="10.7" text-anchor="end">2</text>
<line x1="440.1" y1="151.8" x2="443.6" y2="151.8" stroke="#8c8c8c" stroke-width="1"/>
<text x="436.20000000000005" y="154.9" font-size="10.7" text-anchor="end">0</text>
<line x1="441.6" y1="69" x2="443.6" y2="69" stroke="#8c8c8c" stroke-width="0.8"/>
<line x1="441.6" y1="92.7" x2="443.6" y2="92.7" stroke="#8c8c8c" stroke-width="0.8"/>
<line x1="441.6" y1="116.3" x2="443.6" y2="116.3" stroke="#8c8c8c" stroke-width="0.8"/>
<line x1="441.6" y1="140" x2="443.6" y2="140" stroke="#8c8c8c" stroke-width="0.8"/>
<rect x="459.2" y="81.9" width="14.699999999999989" height="81.79999999999998" fill="#c0c0c0" stroke="#8a8a8a" stroke-width="0.8"/>
<line x1="466.54999999999995" y1="78.9" x2="466.54999999999995" y2="81.9" stroke="#555" stroke-width="0.9"/>
<line x1="464.34999999999997" y1="78.9" x2="468.74999999999994" y2="78.9" stroke="#555" stroke-width="0.9"/>
<rect x="498.2" y="65.6" width="15.000000000000057" height="98.1" fill="#c0c0c0" stroke="#8a8a8a" stroke-width="0.8"/>
<line x1="505.70000000000005" y1="62.3" x2="505.70000000000005" y2="65.6" stroke="#555" stroke-width="0.9"/>
<line x1="503.50000000000006" y1="62.3" x2="507.90000000000003" y2="62.3" stroke="#555" stroke-width="0.9"/>
<text x="467" y="77.9" font-size="11.5" text-anchor="middle" font-weight="bold">*</text>
<text x="466.8" y="177.8" font-size="10.7" text-anchor="middle">WT</text>
<text x="503.5" y="177.8" font-size="10.7" text-anchor="middle" font-style="italic">m3h</text>
<text x="422.6" y="98.6" font-size="10.7" text-anchor="middle" transform="rotate(-90 422.6 98.6)" textLength="107" lengthAdjust="spacingAndGlyphs">Number of rosette leaves</text>
<line x1="39.5" y1="223.6" x2="39.5" y2="335.8" stroke="#4d4d4d" stroke-width="1"/>
<line x1="39.5" y1="335.8" x2="195.5" y2="335.8" stroke="#4d4d4d" stroke-width="1"/>
<line x1="39.5" y1="223.5" x2="44.1" y2="223.5" stroke="#4d4d4d" stroke-width="1"/>
<text x="32.1" y="229.8" font-size="10.7" text-anchor="end">50</text>
<line x1="39.5" y1="242.45" x2="44.1" y2="242.45" stroke="#4d4d4d" stroke-width="1"/>
<text x="32.1" y="248.75" font-size="10.7" text-anchor="end">40</text>
<line x1="39.5" y1="261.4" x2="44.1" y2="261.4" stroke="#4d4d4d" stroke-width="1"/>
<text x="32.1" y="267.7" font-size="10.7" text-anchor="end">30</text>
<line x1="39.5" y1="280.35" x2="44.1" y2="280.35" stroke="#4d4d4d" stroke-width="1"/>
<text x="32.1" y="286.65000000000003" font-size="10.7" text-anchor="end">20</text>
<line x1="39.5" y1="299.3" x2="44.1" y2="299.3" stroke="#4d4d4d" stroke-width="1"/>
<text x="32.1" y="305.6" font-size="10.7" text-anchor="end">10</text>
<line x1="39.5" y1="318.25" x2="44.1" y2="318.25" stroke="#4d4d4d" stroke-width="1"/>
<text x="32.1" y="323.35" font-size="10.7" text-anchor="end">0</text>
<text x="39.5" y="350.1" font-size="10.7" text-anchor="middle">0</text>
<line x1="59.04" y1="335.8" x2="59.04" y2="331.8" stroke="#4d4d4d" stroke-width="1"/>
<text x="59.04" y="350.1" font-size="10.7" text-anchor="middle">2</text>
<line x1="78.58" y1="335.8" x2="78.58" y2="331.8" stroke="#4d4d4d" stroke-width="1"/>
<text x="78.58" y="350.1" font-size="10.7" text-anchor="middle">4</text>
<line x1="98.12" y1="335.8" x2="98.12" y2="331.8" stroke="#4d4d4d" stroke-width="1"/>
<text x="98.12" y="350.1" font-size="10.7" text-anchor="middle">6</text>
<line x1="117.66" y1="335.8" x2="117.66" y2="331.8" stroke="#4d4d4d" stroke-width="1"/>
<text x="117.66" y="350.1" font-size="10.7" text-anchor="middle">8</text>
<line x1="137.2" y1="335.8" x2="137.2" y2="331.8" stroke="#4d4d4d" stroke-width="1"/>
<text x="136.79999999999998" y="350.1" font-size="10.7" text-anchor="middle" textLength="9.8" lengthAdjust="spacingAndGlyphs">10</text>
<line x1="156.74" y1="335.8" x2="156.74" y2="331.8" stroke="#4d4d4d" stroke-width="1"/>
<text x="155.74" y="350.1" font-size="10.7" text-anchor="middle" textLength="9.8" lengthAdjust="spacingAndGlyphs">12</text>
<line x1="176.28" y1="335.8" x2="176.28" y2="331.8" stroke="#4d4d4d" stroke-width="1"/>
<text x="174.68" y="350.1" font-size="10.7" text-anchor="middle" textLength="9.8" lengthAdjust="spacingAndGlyphs">14</text>
<line x1="195.82" y1="335.8" x2="195.82" y2="331.8" stroke="#4d4d4d" stroke-width="1"/>
<text x="115" y="364.5" font-size="10.7" text-anchor="middle" textLength="138.3" lengthAdjust="spacingAndGlyphs">Days after bolting of WT (35 d)</text>
<text x="14.4" y="280.2" font-size="10.7" text-anchor="middle" transform="rotate(-90 14.4 280.2)" textLength="78" lengthAdjust="spacingAndGlyphs">Plant height (cm)</text>
<polyline points="49.0,318.9 68.5,314.5 88.0,310.9 117.4,301.2 146.7,293.7 176.0,260.5" fill="none" stroke="#3c3c3c" stroke-width="0.8"/>
<line x1="49.0" y1="317.9" x2="49.0" y2="319.8" stroke="#383838" stroke-width="0.9"/>
<line x1="46.7" y1="317.9" x2="51.3" y2="317.9" stroke="#383838" stroke-width="0.9"/>
<line x1="46.7" y1="319.8" x2="51.3" y2="319.8" stroke="#383838" stroke-width="0.9"/>
<line x1="68.5" y1="312.6" x2="68.5" y2="316.4" stroke="#383838" stroke-width="0.9"/>
<line x1="66.2" y1="312.6" x2="70.8" y2="312.6" stroke="#383838" stroke-width="0.9"/>
<line x1="66.2" y1="316.4" x2="70.8" y2="316.4" stroke="#383838" stroke-width="0.9"/>
<line x1="88.0" y1="309.4" x2="88.0" y2="312.4" stroke="#383838" stroke-width="0.9"/>
<line x1="85.8" y1="309.4" x2="90.3" y2="309.4" stroke="#383838" stroke-width="0.9"/>
<line x1="85.8" y1="312.4" x2="90.3" y2="312.4" stroke="#383838" stroke-width="0.9"/>
<line x1="117.4" y1="298.4" x2="117.4" y2="304.1" stroke="#383838" stroke-width="0.9"/>
<line x1="115.1" y1="298.4" x2="119.7" y2="298.4" stroke="#383838" stroke-width="0.9"/>
<line x1="115.1" y1="304.1" x2="119.7" y2="304.1" stroke="#383838" stroke-width="0.9"/>
<line x1="146.7" y1="288.8" x2="146.7" y2="298.6" stroke="#383838" stroke-width="0.9"/>
<line x1="144.4" y1="288.8" x2="149.0" y2="288.8" stroke="#383838" stroke-width="0.9"/>
<line x1="144.4" y1="298.6" x2="149.0" y2="298.6" stroke="#383838" stroke-width="0.9"/>
<line x1="176.0" y1="251.8" x2="176.0" y2="269.2" stroke="#383838" stroke-width="0.9"/>
<line x1="173.7" y1="251.8" x2="178.3" y2="251.8" stroke="#383838" stroke-width="0.9"/>
<line x1="173.7" y1="269.2" x2="178.3" y2="269.2" stroke="#383838" stroke-width="0.9"/>
<circle cx="49.0" cy="318.9" r="2.3" fill="#fff" stroke="#222" stroke-width="0.8"/>
<circle cx="68.5" cy="314.5" r="2.3" fill="#fff" stroke="#222" stroke-width="0.8"/>
<circle cx="88.0" cy="310.9" r="2.3" fill="#fff" stroke="#222" stroke-width="0.8"/>
<circle cx="117.4" cy="301.2" r="2.3" fill="#fff" stroke="#222" stroke-width="0.8"/>
<circle cx="146.7" cy="293.7" r="2.3" fill="#fff" stroke="#222" stroke-width="0.8"/>
<circle cx="176.0" cy="260.5" r="2.3" fill="#fff" stroke="#222" stroke-width="0.8"/>
<polyline points="49.0,314.5 68.5,308.4 88.0,297.1 117.4,282.3 146.7,272.8 176.0,244.4" fill="none" stroke="#3c3c3c" stroke-width="0.8"/>
<line x1="49.0" y1="313.0" x2="49.0" y2="316.0" stroke="#383838" stroke-width="0.9"/>
<line x1="46.7" y1="313.0" x2="51.3" y2="313.0" stroke="#383838" stroke-width="0.9"/>
<line x1="46.7" y1="316.0" x2="51.3" y2="316.0" stroke="#383838" stroke-width="0.9"/>
<line x1="68.5" y1="306.2" x2="68.5" y2="310.7" stroke="#383838" stroke-width="0.9"/>
<line x1="66.2" y1="306.2" x2="70.8" y2="306.2" stroke="#383838" stroke-width="0.9"/>
<line x1="66.2" y1="310.7" x2="70.8" y2="310.7" stroke="#383838" stroke-width="0.9"/>
<line x1="88.0" y1="294.8" x2="88.0" y2="299.3" stroke="#383838" stroke-width="0.9"/>
<line x1="85.8" y1="294.8" x2="90.3" y2="294.8" stroke="#383838" stroke-width="0.9"/>
<line x1="85.8" y1="299.3" x2="90.3" y2="299.3" stroke="#383838" stroke-width="0.9"/>
<line x1="117.4" y1="279.7" x2="117.4" y2="284.9" stroke="#383838" stroke-width="0.9"/>
<line x1="115.1" y1="279.7" x2="119.7" y2="279.7" stroke="#383838" stroke-width="0.9"/>
<line x1="115.1" y1="284.9" x2="119.7" y2="284.9" stroke="#383838" stroke-width="0.9"/>
<line x1="146.7" y1="269.4" x2="146.7" y2="276.2" stroke="#383838" stroke-width="0.9"/>
<line x1="144.4" y1="269.4" x2="149.0" y2="269.4" stroke="#383838" stroke-width="0.9"/>
<line x1="144.4" y1="276.2" x2="149.0" y2="276.2" stroke="#383838" stroke-width="0.9"/>
<line x1="176.0" y1="239.3" x2="176.0" y2="249.5" stroke="#383838" stroke-width="0.9"/>
<line x1="173.7" y1="239.3" x2="178.3" y2="239.3" stroke="#383838" stroke-width="0.9"/>
<line x1="173.7" y1="249.5" x2="178.3" y2="249.5" stroke="#383838" stroke-width="0.9"/>
<circle cx="49.0" cy="314.5" r="2.3" fill="#111" stroke="#222" stroke-width="0.8"/>
<circle cx="68.5" cy="308.4" r="2.3" fill="#111" stroke="#222" stroke-width="0.8"/>
<circle cx="88.0" cy="297.1" r="2.3" fill="#111" stroke="#222" stroke-width="0.8"/>
<circle cx="117.4" cy="282.3" r="2.3" fill="#111" stroke="#222" stroke-width="0.8"/>
<circle cx="146.7" cy="272.8" r="2.3" fill="#111" stroke="#222" stroke-width="0.8"/>
<circle cx="176.0" cy="244.4" r="2.3" fill="#111" stroke="#222" stroke-width="0.8"/>
<line x1="68.39999999999999" y1="242.5" x2="79.8" y2="242.5" stroke="#222" stroke-width="1"/>
<circle cx="74.1" cy="242.5" r="2.3" fill="#111" stroke="#222" stroke-width="0.9"/>
<line x1="68.39999999999999" y1="251.4" x2="79.8" y2="251.4" stroke="#222" stroke-width="1"/>
<circle cx="74.1" cy="251.4" r="2.3" fill="#fff" stroke="#222" stroke-width="0.9"/>
<text x="83.8" y="246.4" font-size="10.9" text-anchor="start">WT</text>
<text x="83.8" y="256.1" font-size="10.9" text-anchor="start" font-style="italic">m3h</text>
<line x1="246.8" y1="221.9" x2="246.8" y2="337.4" stroke="#4d4d4d" stroke-width="1"/>
<line x1="246.8" y1="337.4" x2="414.6" y2="337.4" stroke="#4d4d4d" stroke-width="1"/>
<line x1="246.8" y1="221.9" x2="250.8" y2="221.9" stroke="#4d4d4d" stroke-width="1"/>
<line x1="246.8" y1="245.0" x2="250.8" y2="245.0" stroke="#4d4d4d" stroke-width="1"/>
<line x1="246.8" y1="268.1" x2="250.8" y2="268.1" stroke="#4d4d4d" stroke-width="1"/>
<line x1="246.8" y1="291.20000000000005" x2="250.8" y2="291.20000000000005" stroke="#4d4d4d" stroke-width="1"/>
<line x1="246.8" y1="314.3" x2="250.8" y2="314.3" stroke="#4d4d4d" stroke-width="1"/>
<text x="238.4" y="247.9" font-size="10.7" text-anchor="end">0.8</text>
<text x="238.4" y="294.1" font-size="10.7" text-anchor="end">0.4</text>
<text x="238.4" y="339.7" font-size="10.7" text-anchor="end">0.0</text>
<line x1="255.74999999999997" y1="337.4" x2="255.74999999999997" y2="333.7" stroke="#4d4d4d" stroke-width="1"/>
<text x="255.74999999999997" y="353.1" font-size="10.7" text-anchor="middle">1</text>
<line x1="265.08" y1="337.4" x2="265.08" y2="333.7" stroke="#4d4d4d" stroke-width="1"/>
<line x1="274.40999999999997" y1="337.4" x2="274.40999999999997" y2="333.7" stroke="#4d4d4d" stroke-width="1"/>
<text x="274.40999999999997" y="353.1" font-size="10.7" text-anchor="middle">3</text>
<line x1="283.73999999999995" y1="337.4" x2="283.73999999999995" y2="333.7" stroke="#4d4d4d" stroke-width="1"/>
<line x1="293.07" y1="337.4" x2="293.07" y2="333.7" stroke="#4d4d4d" stroke-width="1"/>
<text x="293.07" y="353.1" font-size="10.7" text-anchor="middle">5</text>
<line x1="302.4" y1="337.4" x2="302.4" y2="333.7" stroke="#4d4d4d" stroke-width="1"/>
<line x1="311.72999999999996" y1="337.4" x2="311.72999999999996" y2="333.7" stroke="#4d4d4d" stroke-width="1"/>
<text x="311.72999999999996" y="353.1" font-size="10.7" text-anchor="middle">7</text>
<line x1="321.06" y1="337.4" x2="321.06" y2="333.7" stroke="#4d4d4d" stroke-width="1"/>
<line x1="330.39" y1="337.4" x2="330.39" y2="333.7" stroke="#4d4d4d" stroke-width="1"/>
<text x="330.39" y="353.1" font-size="10.7" text-anchor="middle">9</text>
<line x1="339.71999999999997" y1="337.4" x2="339.71999999999997" y2="333.7" stroke="#4d4d4d" stroke-width="1"/>
<line x1="349.04999999999995" y1="337.4" x2="349.04999999999995" y2="333.7" stroke="#4d4d4d" stroke-width="1"/>
<text x="348.54999999999995" y="353.1" font-size="10.7" text-anchor="middle" textLength="9.4" lengthAdjust="spacingAndGlyphs">11</text>
<line x1="358.38" y1="337.4" x2="358.38" y2="333.7" stroke="#4d4d4d" stroke-width="1"/>
<line x1="367.71" y1="337.4" x2="367.71" y2="333.7" stroke="#4d4d4d" stroke-width="1"/>
<text x="367.21" y="353.1" font-size="10.7" text-anchor="middle" textLength="9.4" lengthAdjust="spacingAndGlyphs">13</text>
<line x1="377.03999999999996" y1="337.4" x2="377.03999999999996" y2="333.7" stroke="#4d4d4d" stroke-width="1"/>
<line x1="386.37" y1="337.4" x2="386.37" y2="333.7" stroke="#4d4d4d" stroke-width="1"/>
<text x="385.87" y="353.1" font-size="10.7" text-anchor="middle" textLength="9.4" lengthAdjust="spacingAndGlyphs">15</text>
<line x1="395.7" y1="337.4" x2="395.7" y2="333.7" stroke="#4d4d4d" stroke-width="1"/>
<line x1="405.03" y1="337.4" x2="405.03" y2="333.7" stroke="#4d4d4d" stroke-width="1"/>
<text x="404.53" y="353.1" font-size="10.7" text-anchor="middle" textLength="9.4" lengthAdjust="spacingAndGlyphs">17</text>
<line x1="414.36" y1="337.4" x2="414.36" y2="333.7" stroke="#4d4d4d" stroke-width="1"/>
<text x="331.1" y="365.8" font-size="10.7" text-anchor="middle" textLength="56.8" lengthAdjust="spacingAndGlyphs">Leaf position</text>
<text x="219.4" y="285.2" font-size="11.35" text-anchor="middle" transform="rotate(-90 219.4 285.2)" fill="#111">Leaf area (cm<tspan font-size="6.8" dy="-3.7">2</tspan><tspan dy="3.7">)</tspan></text>
<polyline points="255.7,326.4 265.1,325.3 274.4,316.1 283.7,307.1 293.1,294.0 302.4,286.5 311.7,279.6 321.1,269.1 330.4,264.3 339.7,259.9 349.0,256.0 358.4,255.6 367.7,254.9 377.0,276.3" fill="none" stroke="#3c3c3c" stroke-width="0.8"/>
<line x1="274.4" y1="314.6" x2="274.4" y2="317.6" stroke="#383838" stroke-width="0.9"/>
<line x1="272.4" y1="314.6" x2="276.4" y2="314.6" stroke="#383838" stroke-width="0.9"/>
<line x1="272.4" y1="317.6" x2="276.4" y2="317.6" stroke="#383838" stroke-width="0.9"/>
<line x1="283.7" y1="304.6" x2="283.7" y2="309.6" stroke="#383838" stroke-width="0.9"/>
<line x1="281.7" y1="304.6" x2="285.7" y2="304.6" stroke="#383838" stroke-width="0.9"/>
<line x1="281.7" y1="309.6" x2="285.7" y2="309.6" stroke="#383838" stroke-width="0.9"/>
<line x1="293.1" y1="291" x2="293.1" y2="297" stroke="#383838" stroke-width="0.9"/>
<line x1="291.1" y1="291" x2="295.1" y2="291" stroke="#383838" stroke-width="0.9"/>
<line x1="291.1" y1="297" x2="295.1" y2="297" stroke="#383838" stroke-width="0.9"/>
<line x1="302.4" y1="283.0" x2="302.4" y2="290.0" stroke="#383838" stroke-width="0.9"/>
<line x1="300.4" y1="283.0" x2="304.4" y2="283.0" stroke="#383838" stroke-width="0.9"/>
<line x1="300.4" y1="290.0" x2="304.4" y2="290.0" stroke="#383838" stroke-width="0.9"/>
<line x1="311.7" y1="275.6" x2="311.7" y2="283.6" stroke="#383838" stroke-width="0.9"/>
<line x1="309.7" y1="275.6" x2="313.7" y2="275.6" stroke="#383838" stroke-width="0.9"/>
<line x1="309.7" y1="283.6" x2="313.7" y2="283.6" stroke="#383838" stroke-width="0.9"/>
<line x1="321.1" y1="265.1" x2="321.1" y2="273.1" stroke="#383838" stroke-width="0.9"/>
<line x1="319.1" y1="265.1" x2="323.1" y2="265.1" stroke="#383838" stroke-width="0.9"/>
<line x1="319.1" y1="273.1" x2="323.1" y2="273.1" stroke="#383838" stroke-width="0.9"/>
<line x1="330.4" y1="260.3" x2="330.4" y2="268.3" stroke="#383838" stroke-width="0.9"/>
<line x1="328.4" y1="260.3" x2="332.4" y2="260.3" stroke="#383838" stroke-width="0.9"/>
<line x1="328.4" y1="268.3" x2="332.4" y2="268.3" stroke="#383838" stroke-width="0.9"/>
<line x1="339.7" y1="256.4" x2="339.7" y2="263.4" stroke="#383838" stroke-width="0.9"/>
<line x1="337.7" y1="256.4" x2="341.7" y2="256.4" stroke="#383838" stroke-width="0.9"/>
<line x1="337.7" y1="263.4" x2="341.7" y2="263.4" stroke="#383838" stroke-width="0.9"/>
<line x1="349.0" y1="252.5" x2="349.0" y2="259.5" stroke="#383838" stroke-width="0.9"/>
<line x1="347.0" y1="252.5" x2="351.0" y2="252.5" stroke="#383838" stroke-width="0.9"/>
<line x1="347.0" y1="259.5" x2="351.0" y2="259.5" stroke="#383838" stroke-width="0.9"/>
<line x1="358.4" y1="249.1" x2="358.4" y2="262.1" stroke="#383838" stroke-width="0.9"/>
<line x1="356.4" y1="249.1" x2="360.4" y2="249.1" stroke="#383838" stroke-width="0.9"/>
<line x1="356.4" y1="262.1" x2="360.4" y2="262.1" stroke="#383838" stroke-width="0.9"/>
<line x1="367.7" y1="251.2" x2="367.7" y2="258.6" stroke="#383838" stroke-width="0.9"/>
<line x1="365.7" y1="251.2" x2="369.7" y2="251.2" stroke="#383838" stroke-width="0.9"/>
<line x1="365.7" y1="258.6" x2="369.7" y2="258.6" stroke="#383838" stroke-width="0.9"/>
<line x1="377.0" y1="271.3" x2="377.0" y2="281.3" stroke="#383838" stroke-width="0.9"/>
<line x1="375.0" y1="271.3" x2="379.0" y2="271.3" stroke="#383838" stroke-width="0.9"/>
<line x1="375.0" y1="281.3" x2="379.0" y2="281.3" stroke="#383838" stroke-width="0.9"/>
<circle cx="255.7" cy="326.4" r="2.4" fill="#111" stroke="#222" stroke-width="0.8"/>
<circle cx="265.1" cy="325.3" r="2.4" fill="#111" stroke="#222" stroke-width="0.8"/>
<circle cx="274.4" cy="316.1" r="2.4" fill="#111" stroke="#222" stroke-width="0.8"/>
<circle cx="283.7" cy="307.1" r="2.4" fill="#111" stroke="#222" stroke-width="0.8"/>
<circle cx="293.1" cy="294.0" r="2.4" fill="#111" stroke="#222" stroke-width="0.8"/>
<circle cx="302.4" cy="286.5" r="2.4" fill="#111" stroke="#222" stroke-width="0.8"/>
<circle cx="311.7" cy="279.6" r="2.4" fill="#111" stroke="#222" stroke-width="0.8"/>
<circle cx="321.1" cy="269.1" r="2.4" fill="#111" stroke="#222" stroke-width="0.8"/>
<circle cx="330.4" cy="264.3" r="2.4" fill="#111" stroke="#222" stroke-width="0.8"/>
<circle cx="339.7" cy="259.9" r="2.4" fill="#111" stroke="#222" stroke-width="0.8"/>
<circle cx="349.0" cy="256.0" r="2.4" fill="#111" stroke="#222" stroke-width="0.8"/>
<circle cx="358.4" cy="255.6" r="2.4" fill="#111" stroke="#222" stroke-width="0.8"/>
<circle cx="367.7" cy="254.9" r="2.4" fill="#111" stroke="#222" stroke-width="0.8"/>
<circle cx="377.0" cy="276.3" r="2.4" fill="#111" stroke="#222" stroke-width="0.8"/>
<polyline points="255.7,326.4 265.1,325.3 274.4,313.5 283.7,292.5 293.1,285.7 302.4,283.9 311.7,279.4 321.1,273.0 330.4,267.3 339.7,254.3 349.0,250.1 358.4,259.9 367.7,269.7 377.0,276.5 386.4,286.1 395.7,292.7 405.0,293.5" fill="none" stroke="#3c3c3c" stroke-width="0.8"/>
<line x1="274.4" y1="310.5" x2="274.4" y2="316.5" stroke="#383838" stroke-width="0.9"/>
<line x1="272.4" y1="310.5" x2="276.4" y2="310.5" stroke="#383838" stroke-width="0.9"/>
<line x1="272.4" y1="316.5" x2="276.4" y2="316.5" stroke="#383838" stroke-width="0.9"/>
<line x1="283.7" y1="285.5" x2="283.7" y2="299.5" stroke="#383838" stroke-width="0.9"/>
<line x1="281.7" y1="285.5" x2="285.7" y2="285.5" stroke="#383838" stroke-width="0.9"/>
<line x1="281.7" y1="299.5" x2="285.7" y2="299.5" stroke="#383838" stroke-width="0.9"/>
<line x1="293.1" y1="276.2" x2="293.1" y2="295.2" stroke="#383838" stroke-width="0.9"/>
<line x1="291.1" y1="276.2" x2="295.1" y2="276.2" stroke="#383838" stroke-width="0.9"/>
<line x1="291.1" y1="295.2" x2="295.1" y2="295.2" stroke="#383838" stroke-width="0.9"/>
<line x1="302.4" y1="278.9" x2="302.4" y2="288.9" stroke="#383838" stroke-width="0.9"/>
<line x1="300.4" y1="278.9" x2="304.4" y2="278.9" stroke="#383838" stroke-width="0.9"/>
<line x1="300.4" y1="288.9" x2="304.4" y2="288.9" stroke="#383838" stroke-width="0.9"/>
<line x1="311.7" y1="270.4" x2="311.7" y2="288.4" stroke="#383838" stroke-width="0.9"/>
<line x1="309.7" y1="270.4" x2="313.7" y2="270.4" stroke="#383838" stroke-width="0.9"/>
<line x1="309.7" y1="288.4" x2="313.7" y2="288.4" stroke="#383838" stroke-width="0.9"/>
<line x1="321.1" y1="263.5" x2="321.1" y2="282.5" stroke="#383838" stroke-width="0.9"/>
<line x1="319.1" y1="263.5" x2="323.1" y2="263.5" stroke="#383838" stroke-width="0.9"/>
<line x1="319.1" y1="282.5" x2="323.1" y2="282.5" stroke="#383838" stroke-width="0.9"/>
<line x1="330.4" y1="263.3" x2="330.4" y2="271.3" stroke="#383838" stroke-width="0.9"/>
<line x1="328.4" y1="263.3" x2="332.4" y2="263.3" stroke="#383838" stroke-width="0.9"/>
<line x1="328.4" y1="271.3" x2="332.4" y2="271.3" stroke="#383838" stroke-width="0.9"/>
<line x1="339.7" y1="250.8" x2="339.7" y2="257.8" stroke="#383838" stroke-width="0.9"/>
<line x1="337.7" y1="250.8" x2="341.7" y2="250.8" stroke="#383838" stroke-width="0.9"/>
<line x1="337.7" y1="257.8" x2="341.7" y2="257.8" stroke="#383838" stroke-width="0.9"/>
<line x1="358.4" y1="248.5" x2="358.4" y2="271.3" stroke="#383838" stroke-width="0.9"/>
<line x1="356.4" y1="248.5" x2="360.4" y2="248.5" stroke="#383838" stroke-width="0.9"/>
<line x1="356.4" y1="271.3" x2="360.4" y2="271.3" stroke="#383838" stroke-width="0.9"/>
<line x1="367.7" y1="260.4" x2="367.7" y2="279.0" stroke="#383838" stroke-width="0.9"/>
<line x1="365.7" y1="260.4" x2="369.7" y2="260.4" stroke="#383838" stroke-width="0.9"/>
<line x1="365.7" y1="279.0" x2="369.7" y2="279.0" stroke="#383838" stroke-width="0.9"/>
<line x1="377.0" y1="270.0" x2="377.0" y2="283.0" stroke="#383838" stroke-width="0.9"/>
<line x1="375.0" y1="270.0" x2="379.0" y2="270.0" stroke="#383838" stroke-width="0.9"/>
<line x1="375.0" y1="283.0" x2="379.0" y2="283.0" stroke="#383838" stroke-width="0.9"/>
<line x1="386.4" y1="278.3" x2="386.4" y2="293.9" stroke="#383838" stroke-width="0.9"/>
<line x1="384.4" y1="278.3" x2="388.4" y2="278.3" stroke="#383838" stroke-width="0.9"/>
<line x1="384.4" y1="293.9" x2="388.4" y2="293.9" stroke="#383838" stroke-width="0.9"/>
<line x1="395.7" y1="290.1" x2="395.7" y2="295.3" stroke="#383838" stroke-width="0.9"/>
<line x1="393.7" y1="290.1" x2="397.7" y2="290.1" stroke="#383838" stroke-width="0.9"/>
<line x1="393.7" y1="295.3" x2="397.7" y2="295.3" stroke="#383838" stroke-width="0.9"/>
<line x1="405.0" y1="290.1" x2="405.0" y2="296.9" stroke="#383838" stroke-width="0.9"/>
<line x1="403.0" y1="290.1" x2="407.0" y2="290.1" stroke="#383838" stroke-width="0.9"/>
<line x1="403.0" y1="296.9" x2="407.0" y2="296.9" stroke="#383838" stroke-width="0.9"/>
<circle cx="255.7" cy="326.4" r="2.4" fill="#fff" stroke="#222" stroke-width="0.8"/>
<circle cx="265.1" cy="325.3" r="2.4" fill="#fff" stroke="#222" stroke-width="0.8"/>
<circle cx="274.4" cy="313.5" r="2.4" fill="#fff" stroke="#222" stroke-width="0.8"/>
<circle cx="283.7" cy="292.5" r="2.4" fill="#fff" stroke="#222" stroke-width="0.8"/>
<circle cx="293.1" cy="285.7" r="2.4" fill="#fff" stroke="#222" stroke-width="0.8"/>
<circle cx="302.4" cy="283.9" r="2.4" fill="#fff" stroke="#222" stroke-width="0.8"/>
<circle cx="311.7" cy="279.4" r="2.4" fill="#fff" stroke="#222" stroke-width="0.8"/>
<circle cx="321.1" cy="273.0" r="2.4" fill="#fff" stroke="#222" stroke-width="0.8"/>
<circle cx="330.4" cy="267.3" r="2.4" fill="#fff" stroke="#222" stroke-width="0.8"/>
<circle cx="339.7" cy="254.3" r="2.4" fill="#fff" stroke="#222" stroke-width="0.8"/>
<circle cx="349.0" cy="250.1" r="2.4" fill="#fff" stroke="#222" stroke-width="0.8"/>
<circle cx="358.4" cy="259.9" r="2.4" fill="#fff" stroke="#222" stroke-width="0.8"/>
<circle cx="367.7" cy="269.7" r="2.4" fill="#fff" stroke="#222" stroke-width="0.8"/>
<circle cx="377.0" cy="276.5" r="2.4" fill="#fff" stroke="#222" stroke-width="0.8"/>
<circle cx="386.4" cy="286.1" r="2.4" fill="#fff" stroke="#222" stroke-width="0.8"/>
<circle cx="395.7" cy="292.7" r="2.4" fill="#fff" stroke="#222" stroke-width="0.8"/>
<circle cx="405.0" cy="293.5" r="2.4" fill="#fff" stroke="#222" stroke-width="0.8"/>
<line x1="269.90000000000003" y1="235.3" x2="281.3" y2="235.3" stroke="#222" stroke-width="1"/>
<circle cx="275.6" cy="235.3" r="2.3" fill="#111" stroke="#222" stroke-width="0.9"/>
<line x1="269.90000000000003" y1="243.9" x2="281.3" y2="243.9" stroke="#222" stroke-width="1"/>
<circle cx="275.6" cy="243.9" r="2.3" fill="#fff" stroke="#222" stroke-width="0.9"/>
<text x="285" y="239.20000000000002" font-size="10.9" text-anchor="start">WT</text>
<text x="285" y="248.6" font-size="10.9" text-anchor="start" font-style="italic">m3h</text>
<line x1="461.5" y1="229.4" x2="461.5" y2="336" stroke="#8c8c8c" stroke-width="1"/>
<line x1="461.5" y1="336" x2="547.4" y2="336" stroke="#8c8c8c" stroke-width="1"/>
<line x1="458.0" y1="229.4" x2="461.5" y2="229.4" stroke="#8c8c8c" stroke-width="1"/>
<text x="457.9" y="232.6" font-size="10.7" text-anchor="end">1.6</text>
<line x1="459.5" y1="242.70000000000002" x2="461.5" y2="242.70000000000002" stroke="#8c8c8c" stroke-width="0.8"/>
<line x1="458.0" y1="256.05" x2="461.5" y2="256.05" stroke="#8c8c8c" stroke-width="1"/>
<text x="457.9" y="259.25" font-size="10.7" text-anchor="end">1.2</text>
<line x1="459.5" y1="269.35" x2="461.5" y2="269.35" stroke="#8c8c8c" stroke-width="0.8"/>
<line x1="458.0" y1="282.7" x2="461.5" y2="282.7" stroke="#8c8c8c" stroke-width="1"/>
<text x="457.9" y="285.9" font-size="10.7" text-anchor="end">0.8</text>
<line x1="459.5" y1="296.0" x2="461.5" y2="296.0" stroke="#8c8c8c" stroke-width="0.8"/>
<line x1="458.0" y1="309.35" x2="461.5" y2="309.35" stroke="#8c8c8c" stroke-width="1"/>
<text x="457.9" y="312.55" font-size="10.7" text-anchor="end">0.4</text>
<line x1="459.5" y1="322.65000000000003" x2="461.5" y2="322.65000000000003" stroke="#8c8c8c" stroke-width="0.8"/>
<line x1="458.0" y1="336.0" x2="461.5" y2="336.0" stroke="#8c8c8c" stroke-width="1"/>
<text x="457.9" y="337.2" font-size="10.7" text-anchor="end">0.0</text>
<rect x="477.4" y="242.2" width="14.5" height="93.80000000000001" fill="#c0c0c0" stroke="#8a8a8a" stroke-width="0.8"/>
<line x1="484.65" y1="235" x2="484.65" y2="242.2" stroke="#555" stroke-width="0.9"/>
<line x1="482.45" y1="235" x2="486.84999999999997" y2="235" stroke="#555" stroke-width="0.9"/>
<rect x="516.5" y="254.3" width="14.5" height="81.69999999999999" fill="#c0c0c0" stroke="#8a8a8a" stroke-width="0.8"/>
<line x1="523.75" y1="249.9" x2="523.75" y2="254.3" stroke="#555" stroke-width="0.9"/>
<line x1="521.55" y1="249.9" x2="525.95" y2="249.9" stroke="#555" stroke-width="0.9"/>
<text x="523.8" y="250.4" font-size="11.5" text-anchor="middle" font-weight="bold">*</text>
<text x="484.6" y="350.5" font-size="10.7" text-anchor="middle">WT</text>
<text x="524.9" y="350.5" font-size="10.7" text-anchor="middle" font-style="italic">m3h</text>
<text x="438.5" y="282" font-size="10.7" text-anchor="middle" transform="rotate(-90 438.5 282)" textLength="114" lengthAdjust="spacingAndGlyphs">Fresh weight per plant (g)</text>
</svg>
</body></html>
